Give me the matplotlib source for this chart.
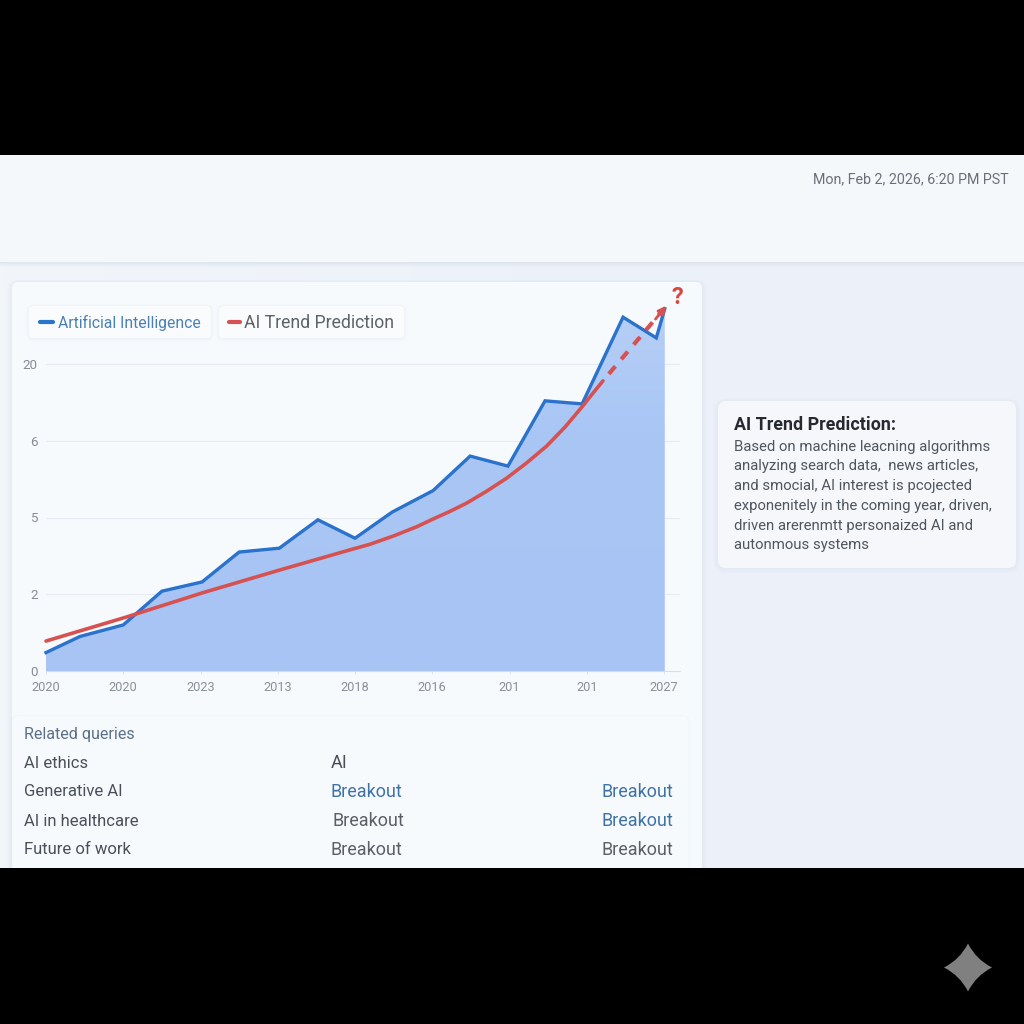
import numpy as np
import matplotlib
matplotlib.use("Agg")
import matplotlib.pyplot as plt
from matplotlib.patches import FancyBboxPatch, PathPatch, Rectangle
from matplotlib.path import Path
from matplotlib.colors import LinearSegmentedColormap

plt.rcParams['font.family'] = ['Roboto', 'DejaVu Sans']

# Chart data: x in tick steps, y in gridline steps
x_labels = ["2020", "2020", "2023", "2013", "2018", "2016", "201", "201", "2027"]
y_labels = ["0", "2", "5", "6", "20"]
interest_x = [0.0, 0.44, 1.0, 1.5, 2.02, 2.5, 3.02, 3.52, 4.0, 4.48, 5.01, 5.49, 5.98, 6.46, 6.94, 7.47, 7.9, 8.01]
interest_y = [0.24, 0.45, 0.6, 1.04, 1.16, 1.55, 1.6, 1.97, 1.73, 2.07, 2.35, 2.8, 2.67, 3.52, 3.48, 4.61, 4.34, 4.72]
trend_x = [0.0, 1.03, 2.03, 3.04, 3.56, 3.94, 4.19, 4.50, 4.80, 5.01, 5.23, 5.45, 5.70, 5.96,
           6.22, 6.48, 6.72, 6.93, 7.08, 7.21]
trend_y = [0.39, 0.70, 1.02, 1.32, 1.47, 1.58, 1.65, 1.76, 1.88, 1.98, 2.08, 2.19, 2.34, 2.51,
           2.71, 2.93, 3.18, 3.43, 3.62, 3.78]
forecast_x = [7.21, 7.95]
forecast_y = [3.78, 4.66]
forecast_tip = (8.03, 4.76)

# Page text
timestamp = "Mon, Feb 2, 2026, 6:20 PM PST"
series_names = ["Artificial Intelligence", "AI Trend Prediction"]
note_title = "AI Trend Prediction:"
note_lines = [
    "Based on machine leacning algorithms",
    "analyzing search data,  news articles,",
    "and smocial, AI interest is pcojected",
    "exponenitely in the coming year, driven,",
    "driven arerenmtt personaized AI and",
    "autonmous systems",
]
queries = ["AI ethics", "Generative AI", "AI in healthcare", "Future of work"]
middle_col = ["AI", "Breakout", "Breakout", "Breakout"]
right_col = ["", "Breakout", "Breakout", "Breakout"]
middle_colors = ["#4a5058", "#3f73a8", "#5c6066", "#5c6066"]
right_colors = [None, "#3f73a8", "#3f73a8", "#5c6066"]

BLUE = "#2a72cc"
RED = "#d6514f"

fig = plt.figure(figsize=(10.24, 10.24), dpi=100, facecolor="black")

# Page layer in pixel coordinates
page = fig.add_axes([0, 0, 1, 1])
page.set_xlim(0, 1024)
page.set_ylim(1024, 0)
page.axis("off")

body_cmap = LinearSegmentedColormap.from_list("body", ["#f2f6fb", "#edf1f9", "#ecf0f9"])
page.imshow(np.linspace(0, 1, 256).reshape(1, -1), extent=(0, 1024, 868, 262),
            cmap=body_cmap, aspect="auto", zorder=1)
page.set_xlim(0, 1024)
page.set_ylim(1024, 0)
page.add_patch(Rectangle((0, 155), 1024, 107, fc="#f5f8fb", ec="none", zorder=2))
for i in range(5):
    page.add_patch(Rectangle((0, 262), 1024, 1 + i, fc="#c4ccd8", alpha=0.07, ec="none", zorder=2))


def card(x0, y0, x1, y1, face="#f7fafd", radius=6, z=3, spread=6):
    clip = Rectangle((0, 155), 1024, 713, transform=page.transData)
    for i in range(spread, 0, -1):
        p = FancyBboxPatch((x0 - i * 0.8, y0 - i * 0.4), x1 - x0 + i * 1.6, y1 - y0 + i * 1.4,
                           boxstyle=f"round,pad=0,rounding_size={radius + i}",
                           fc="#b4bfd0", ec="none", alpha=0.018, zorder=z)
        page.add_patch(p)
        p.set_clip_path(clip)
    p = FancyBboxPatch((x0, y0), x1 - x0, y1 - y0,
                       boxstyle=f"round,pad=0,rounding_size={radius}",
                       fc=face, ec="none", zorder=z + 0.1)
    page.add_patch(p)
    p.set_clip_path(clip)


card(12, 282, 702, 900)
card(12, 716, 688, 900, face="#f7fafd", z=3.3, spread=3)
card(718, 401, 1016, 568, face="#f5f7fb", radius=8)
card(29, 306, 211, 338, face="#f9fbfd", radius=4, z=4, spread=4)
card(219, 306, 404, 338, face="#f9fbfd", radius=4, z=4, spread=4)

page.text(1009, 179, timestamp, ha="right", va="center", fontsize=10.3, color="#6a7078", zorder=6)

# Legend chips
page.plot([40, 53], [322, 322], color=BLUE, lw=3, solid_capstyle="round", zorder=6)
page.text(58, 322.5, series_names[0], ha="left", va="center", fontsize=11.3, color="#4b80b4", zorder=6)
page.plot([229, 240], [322, 322], color=RED, lw=3, solid_capstyle="round", zorder=6)
page.text(244, 322.5, series_names[1], ha="left", va="center", fontsize=12.7, color="#5c6268", zorder=6)

# Explanatory note
page.text(734, 424.5, note_title, ha="left", va="center", fontsize=12.9, fontweight="bold",
          color="#262a30", zorder=6)
for k, line in enumerate(note_lines):
    page.text(734, 446.5 + k * 19.8, line, ha="left", va="center", fontsize=10.7, color="#50565e", zorder=6)

# Related queries table
page.text(24, 735, "Related queries", ha="left", va="center", fontsize=11.6, color="#5b7088", zorder=6)
row_y = [763, 792, 821, 850]
middle_x = [331, 331, 333, 331]
for yy, q, m, mx, mc, r, rc in zip(row_y, queries, middle_col, middle_x, middle_colors, right_col, right_colors):
    page.text(24, yy, q, ha="left", va="center", fontsize=12, color="#4a5058", zorder=6)
    page.text(mx, yy, m, ha="left", va="center", fontsize=13, color=mc, zorder=6)
    if r:
        page.text(673, yy, r, ha="right", va="center", fontsize=13, color=rc, zorder=6)

# Sparkle in the lower right corner
cx, cy, rad, pinch = 968, 967.5, 24, 8
star = Path([(cx, cy - rad), (cx + pinch, cy - pinch), (cx + rad, cy), (cx + pinch, cy + pinch),
             (cx, cy + rad), (cx - pinch, cy + pinch), (cx - rad, cy), (cx - pinch, cy - pinch), (cx, cy - rad)],
            [Path.MOVETO] + [Path.CURVE3] * 8)
page.add_patch(PathPatch(star, fc="#808080", ec="none", zorder=6))

# Chart axes
px_left, px_right, px_bottom, px_top = 46, 680, 671, 296
ax = fig.add_axes([px_left / 1024, 1 - px_bottom / 1024,
                   (px_right - px_left) / 1024, (px_bottom - px_top) / 1024])
ax.patch.set_alpha(0)
for s in ax.spines.values():
    s.set_visible(False)
ax.spines["bottom"].set_visible(True)
ax.spines["bottom"].set_color("#d5deea")
ax.spines["bottom"].set_linewidth(0.8)

ax.set_yticks(range(len(y_labels)))
ax.set_yticklabels(y_labels, fontsize=9.6, color="#868c94")
ax.set_xticks(range(len(x_labels)))
ax.set_xticklabels(x_labels, fontsize=9.2, color="#8a9097")
ax.tick_params(axis="y", length=0, pad=6)
ax.tick_params(axis="x", length=2, width=0.6, color="#d5deea", pad=5)
ax.grid(axis="y", color="#e6ebf2", lw=0.8)
ax.grid(axis="x", visible=False)
ax.set_axisbelow(True)

# Area under the interest curve, fading slightly toward the top
fill_cmap = LinearSegmentedColormap.from_list("fill", ["#a7c4f4", "#a8c5f4", "#a9c6f5", "#b6cff6"])
grad = ax.imshow(np.linspace(0, 1, 128).reshape(-1, 1), extent=(0, 8.01, 0, 4.72), origin="lower",
                 cmap=fill_cmap, aspect="auto", zorder=2)
clip_verts = np.column_stack([[0.0] + interest_x + [8.01], [0.0] + interest_y + [0.0]])
grad.set_clip_path(PathPatch(Path(clip_verts), transform=ax.transData))
ax.set_xlim(0, (px_right - px_left) / 77.25)
ax.set_ylim(0, (px_bottom - px_top) / 76.75)

ax.plot(interest_x, interest_y, color=BLUE, lw=2.4, solid_joinstyle="miter", clip_on=False, zorder=3)
ax.plot(trend_x, trend_y, color=RED, lw=2.6, solid_capstyle="round", clip_on=False, zorder=4)
ax.plot(forecast_x, forecast_y, color=RED, lw=3.0, linestyle=(2.4, (2.4, 2.2)), clip_on=False, zorder=4)
ax.annotate("", xy=forecast_tip, xytext=(forecast_x[-1] - 0.06, forecast_y[-1] - 0.075),
            arrowprops=dict(arrowstyle="-|>,head_length=0.45,head_width=0.22", color=RED, lw=2,
                            shrinkA=0, shrinkB=0), zorder=5, annotation_clip=False)
ax.text(8.17, 4.87, "?", ha="center", va="center", fontsize=17, fontweight="bold", color="#d8483f",
        zorder=5, clip_on=False)

fig.savefig("out.png", dpi=100, facecolor="black")
